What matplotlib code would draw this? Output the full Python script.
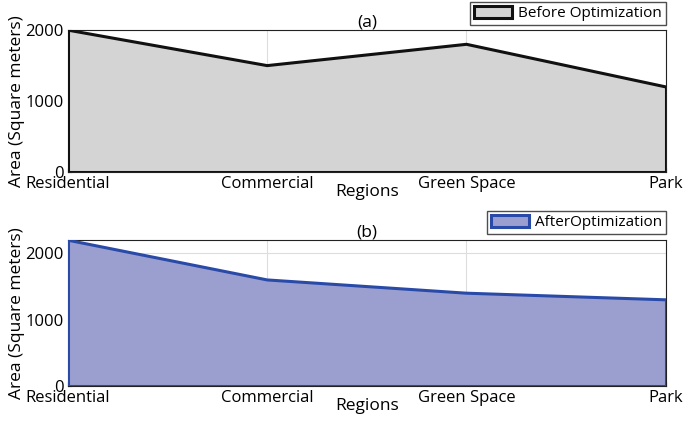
import matplotlib
matplotlib.use("Agg")
import matplotlib.pyplot as plt
from matplotlib.patches import Patch

regions = ["Residential", "Commercial", "Green Space", "Park"]
before = [2000, 1500, 1800, 1200]
after = [2200, 1600, 1400, 1300]

plt.rcParams['font.family'] = ['Open Sans', 'DejaVu Sans']
plt.rcParams['font.size'] = 11

fig = plt.figure(figsize=(6.85, 4.24), dpi=100)
ax1 = fig.add_axes([0.099, 0.594, 0.873, 0.335])
ax2 = fig.add_axes([0.099, 0.0896, 0.873, 0.344])

specs = [
    (ax1, before, "#d3d4d3", "#111111", "Before Optimization", "(a)", 2000, [0, 1000, 2000]),
    (ax2, after, "#9a9fd0", "#2a4aa8", "AfterOptimization", "(b)", 2200, [0, 1000, 2000]),
]
x = list(range(len(regions)))
for ax, vals, fc, ec, lab, title, ymax, yt in specs:
    ax.fill_between(x, vals, 0, facecolor=fc, edgecolor="none", zorder=2)
    ax.plot(x, vals, color=ec, lw=2.2, zorder=3)
    ax.plot([x[0], x[0]], [0, vals[0]], color=ec, lw=2.2, zorder=3)
    ax.plot([x[-1], x[-1]], [0, vals[-1]], color=ec, lw=2.2, zorder=3)
    ax.plot([x[0], x[-1]], [0, 0], color=ec, lw=2.2, zorder=3)
    ax.set_xlim(0, 3)
    ax.set_ylim(0, ymax)
    ax.set_yticks(yt)
    ax.set_xticks(x)
    ax.set_xticklabels(regions)
    ax.grid(True, color="#dddddd", lw=0.8, zorder=0)
    ax.set_axisbelow(True)
    ax.tick_params(direction="in", length=3, labelsize=12, pad=3)
    ax.set_xlabel("Regions", fontsize=12.5, labelpad=-6)
    ax.set_ylabel("Area (Square meters)", fontsize=12.5, labelpad=0)
    ax.set_title(title, fontsize=12.5, pad=0)
    for s in ax.spines.values():
        s.set_color("#222222")
        s.set_linewidth(0.8)
    ax.legend(handles=[Patch(facecolor=fc, edgecolor=ec, lw=2.2, label=lab)],
              loc="upper right", bbox_to_anchor=(1.0, 1.2), fontsize=11,
              frameon=True, fancybox=False, edgecolor="#222222",
              borderpad=0.25, handlelength=2.5, handleheight=0.9,
              handletextpad=0.4, borderaxespad=0)

fig.savefig("out.png", dpi=100)
